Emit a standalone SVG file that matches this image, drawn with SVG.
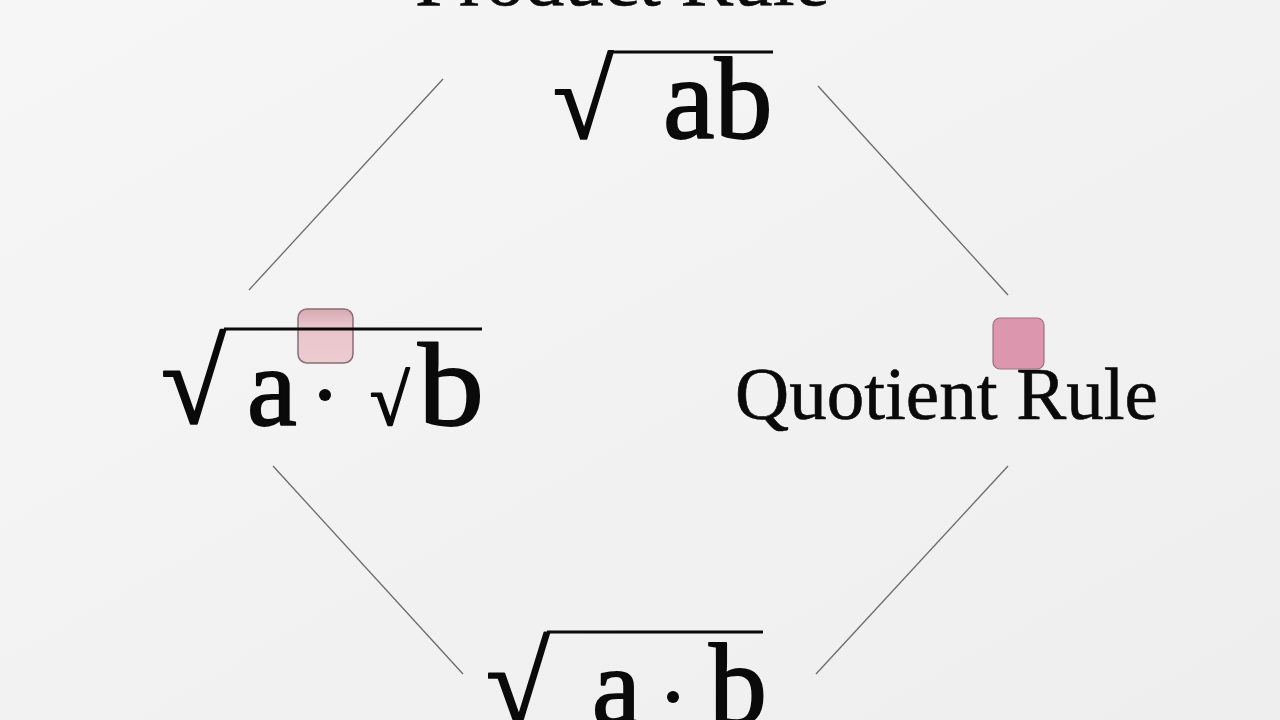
<svg xmlns="http://www.w3.org/2000/svg" width="1280" height="720" viewBox="0 0 1280 720">
<defs>
<linearGradient id="bg" x1="0" y1="0" x2="1" y2="1">
<stop offset="0" stop-color="#f6f6f6"/>
<stop offset="1" stop-color="#eeeeee"/>
</linearGradient>
<linearGradient id="pink1" x1="0" y1="0" x2="0" y2="1">
<stop offset="0" stop-color="#d7aab2"/>
<stop offset="0.3" stop-color="#e8c4ca"/>
<stop offset="1" stop-color="#ecccd1"/>
</linearGradient>
<style>
.t{font-family:"Liberation Serif","Times New Roman",serif;fill:#0a0a0a}
.big{stroke:#0a0a0a;stroke-width:1.8;stroke-linejoin:round}
.mid{stroke:#0a0a0a;stroke-width:0.6}
.bar{stroke:#0a0a0a;stroke-width:3.2;fill:none}
.conn{stroke:#6a6a6a;stroke-width:1.3;fill:none}
</style>
</defs>
<rect width="1280" height="720" fill="url(#bg)"/>
<g id="connectors">
<line class="conn" x1="443" y1="79" x2="249" y2="290"/>
<line class="conn" x1="818" y1="86" x2="1008" y2="295"/>
<line class="conn" x1="273" y1="466" x2="463" y2="674"/>
<line class="conn" x1="1008" y1="466" x2="816" y2="674"/>
</g>
<g id="node-product-label">
<text class="t mid" x="415" y="5" font-size="79">Product Rule</text>
</g>
<g id="node-top">
<text class="t big" x="553" y="138" font-size="110">√</text>
<line class="bar" x1="612" y1="52" x2="773" y2="52"/>
<text class="t big" x="663" y="138" font-size="116">ab</text>
</g>
<g id="node-left">
<rect x="298" y="309" width="55" height="54" rx="9" fill="url(#pink1)" stroke="#8b6e74" stroke-width="1.5"/>
<text class="t big" x="161" y="423" font-size="118">√</text>
<line class="bar" x1="224" y1="329" x2="482" y2="329"/>
<text class="t big" x="247" y="425" font-size="112">a</text>
<circle cx="325" cy="395" r="6" fill="#0a0a0a"/>
<text class="t big" x="370" y="425" font-size="72">√</text>
<text class="t big" transform="translate(418 425) scale(1.12 1)" x="0" y="0" font-size="118">b</text>
</g>
<g id="node-right">
<rect x="993" y="318" width="51" height="51" rx="7" fill="#dc96ae" stroke="#a07080" stroke-width="1.2"/>
<text class="t mid" x="735" y="419" font-size="75">Quotient Rule</text>
</g>
<g id="node-bottom">
<text class="t big" x="486" y="724" font-size="116">√</text>
<line class="bar" x1="547" y1="632" x2="763" y2="632"/>
<text class="t big" x="592" y="724" font-size="110">a</text>
<circle cx="673" cy="697" r="6" fill="#0a0a0a"/>
<text class="t big" x="709" y="724" font-size="116">b</text>
</g>
</svg>
